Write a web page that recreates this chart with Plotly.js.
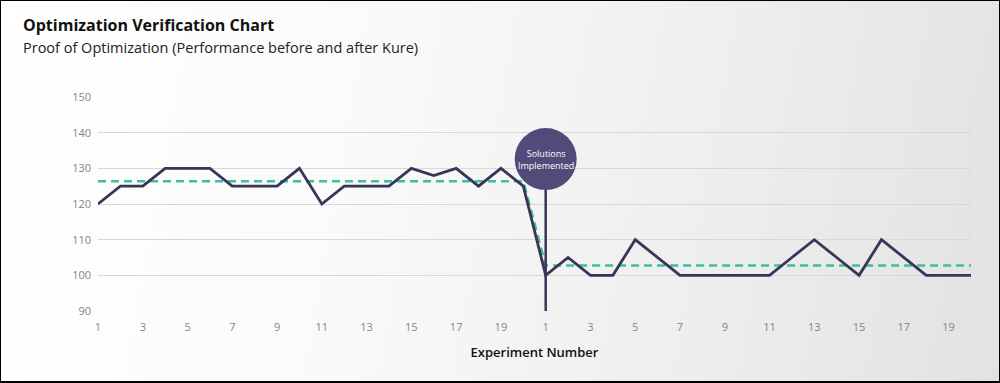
<!DOCTYPE html>
<html>
<head>
<meta charset="utf-8">
<script src="https://cdn.plot.ly/plotly-3.0.1.min.js"></script>
<style>
  html, body { margin: 0; padding: 0; }
  #frame {
    position: relative; width: 1000px; height: 383px; box-sizing: border-box;
    border-top: 1px solid #000; border-left: 1px solid #000; border-right: 1px solid #000; border-bottom: 2px solid #000;
    background: linear-gradient(100deg, #ffffff 0%, #fafafa 35%, #eeeeee 70%, #e2e2e2 100%);
    overflow: hidden;
  }
  #chart { position: absolute; left: -1px; top: -1px; width: 1000px; height: 383px; }
</style>
</head>
<body>
<div id="frame"><div id="chart"></div></div>
<script>
// Experiment index (1-20 before, 21-40 after)
const experiment = [1,2,3,4,5,6,7,8,9,10,11,12,13,14,15,16,17,18,19,20,
                    21,22,23,24,25,26,27,28,29,30,31,32,33,34,35,36,37,38,39,40];
const performance = [120,125,125,130,130,130,125,125,125,130,120,125,125,125,130,128,130,125,130,125,
                     100,105,100,100,110,105,100,100,100,100,100,105,110,105,100,110,105,100,100,100];
const meanBefore = 126.4;
const meanAfter = 102.75;
const tickPositions = [1,3,5,7,9,11,13,15,17,19,21,23,25,27,29,31,33,35,37,39];
const tickLabels = ["1","3","5","7","9","11","13","15","17","19","1","3","5","7","9","11","13","15","17","19"];
const yTicks = [90,100,110,120,130,140,150];
const markerX = 21;
const markerY = 132.6;
const markerLabel = "Solutions<br>Implemented";

const meanLine = experiment.map(x => x <= 20 ? meanBefore : meanAfter);

const FONT = "Open Sans, Lato, sans-serif";
const traces = [
  { x: experiment, y: meanLine, type: 'scatter', mode: 'lines',
    line: { color: '#3cbf9c', width: 2.5, dash: '8px,5px' }, hoverinfo: 'skip' },
  { x: experiment, y: performance, type: 'scatter', mode: 'lines',
    line: { color: '#3a3458', width: 2.8 } }
];

const layout = {
  width: 1000, height: 383,
  margin: { l: 98, r: 29, t: 97, b: 72 },
  paper_bgcolor: 'rgba(0,0,0,0)', plot_bgcolor: 'rgba(0,0,0,0)',
  showlegend: false,
  font: { family: FONT, color: '#888' },
  xaxis: {
    range: [1, 40], tickvals: tickPositions, ticktext: tickLabels,
    showgrid: false, zeroline: false, showline: false, ticks: '',
    ticklabelstandoff: 8,
    tickfont: { size: 11, color: '#858585' },
    title: { text: 'Experiment Number', font: { size: 13, color: '#111', weight: 600 }, standoff: 14 }
  },
  yaxis: {
    range: [90, 150], tickvals: yTicks, showgrid: true, gridcolor: '#d8d8d8', gridwidth: 1,
    zeroline: false, showline: false, ticks: '',
    ticklabelstandoff: 6,
    tickfont: { size: 11, color: '#858585' }
  },
  shapes: [
    { type: 'line', xref: 'x', yref: 'paper', x0: 40, x1: 40, y0: 0, y1: 1,
      line: { color: '#d8d8d8', width: 1 }, layer: 'below' },
    { type: 'line', xref: 'x', yref: 'y', x0: markerX, x1: markerX, y0: 90, y1: markerY,
      line: { color: '#3a3458', width: 2.5 } },
    { type: 'circle', xref: 'x', yref: 'y', xsizemode: 'pixel', ysizemode: 'pixel',
      xanchor: markerX, yanchor: markerY, x0: -31, x1: 31, y0: -31, y1: 31,
      fillcolor: '#534a7a', line: { color: '#534a7a', width: 0 } }
  ],
  annotations: [
    { xref: 'x', yref: 'y', x: markerX, y: markerY, text: markerLabel, showarrow: false,
      font: { family: FONT, size: 9, color: '#ffffff' }, align: 'center' },
    { xref: 'paper', yref: 'paper', x: -0.088, y: (311 - 25) / 214, xanchor: 'left', yanchor: 'middle',
      text: '<b>Optimization Verification Chart</b>', showarrow: false,
      font: { family: FONT, size: 16, color: '#111' } },
    { xref: 'paper', yref: 'paper', x: -0.088, y: (311 - 47) / 214, xanchor: 'left', yanchor: 'middle',
      text: 'Proof of Optimization (Performance before and after Kure)', showarrow: false,
      font: { family: FONT, size: 14.5, color: '#222' } }
  ]
};

Plotly.newPlot('chart', traces, layout, { displayModeBar: false, staticPlot: true });
</script>
</body>
</html>
